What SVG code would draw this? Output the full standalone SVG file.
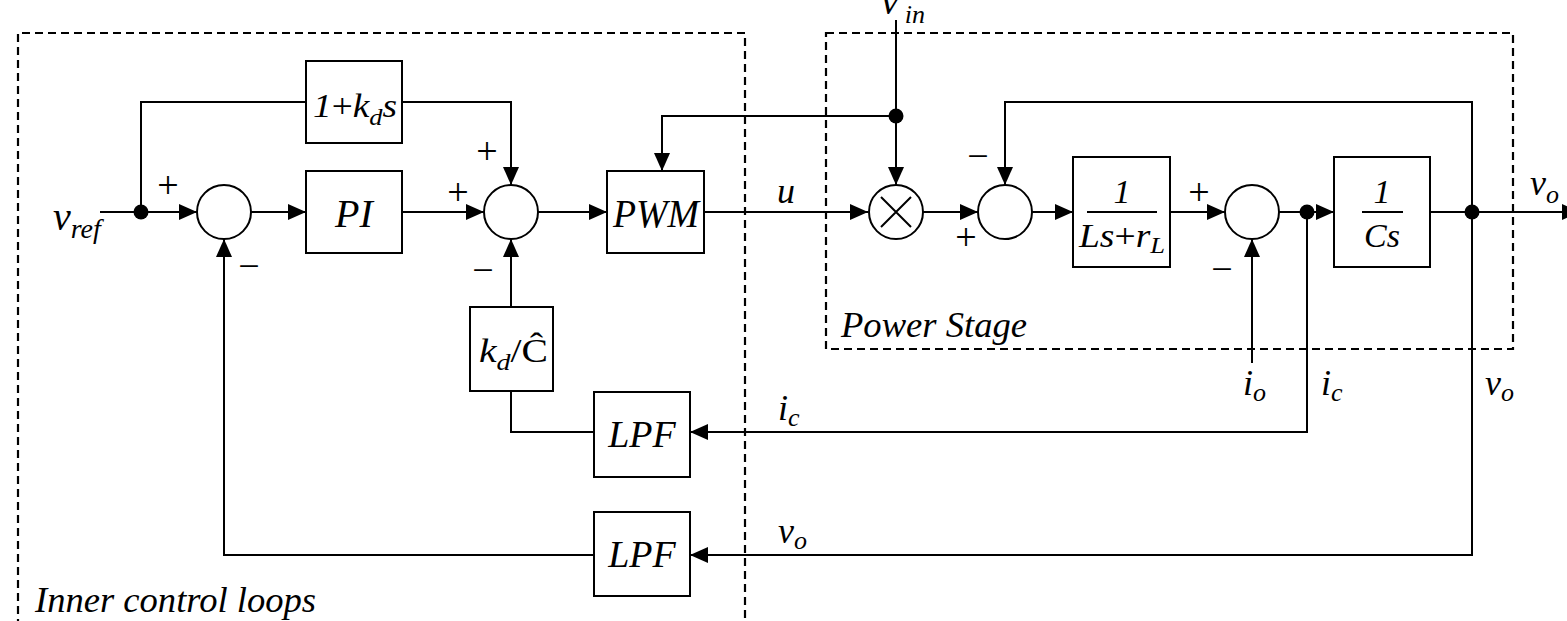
<svg xmlns="http://www.w3.org/2000/svg" width="1567" height="621" viewBox="0 0 1567 621">
<style>
.w{fill:none;stroke:#000;stroke-width:2}
.b{fill:#fff;stroke:#000;stroke-width:2}
.d{fill:none;stroke:#000;stroke-width:2.2;stroke-dasharray:8,5}
</style>
<defs>
<marker id="a" markerUnits="userSpaceOnUse" markerWidth="18" markerHeight="16" refX="18" refY="8" orient="auto">
<path d="M0,0 L18,8 L0,16 z" fill="#000"/>
</marker>
</defs>
<g id="frames">
<path class="d" d="M18,640 V33 H745 V640"/>
<rect class="d" x="826" y="33" width="687" height="316"/>
<text x="35" y="612" font-family="Liberation Serif" font-style="italic" font-size="36" textLength="281" lengthAdjust="spacingAndGlyphs">Inner control loops</text>
<text x="841" y="337" font-family="Liberation Serif" font-style="italic" font-size="36" textLength="186" lengthAdjust="spacingAndGlyphs">Power Stage</text>
</g>
<g id="connectors">
<path class="w" d="M100,212 H197" marker-end="url(#a)"/>
<path class="w" d="M141,212 V102 H306"/>
<path class="w" d="M402,102 H511 V185" marker-end="url(#a)"/>
<path class="w" d="M251,212 H306" marker-end="url(#a)"/>
<path class="w" d="M402,212 H484" marker-end="url(#a)"/>
<path class="w" d="M538,212 H607" marker-end="url(#a)"/>
<path class="w" d="M704,212 H868" marker-end="url(#a)"/>
<path class="w" d="M896,20 V185" marker-end="url(#a)"/>
<path class="w" d="M896,116 H662 V171" marker-end="url(#a)"/>
<path class="w" d="M923,212 H978" marker-end="url(#a)"/>
<path class="w" d="M1032,212 H1073" marker-end="url(#a)"/>
<path class="w" d="M1170,212 H1225" marker-end="url(#a)"/>
<path class="w" d="M1279,212 H1334" marker-end="url(#a)"/>
<path class="w" d="M1430,212 H1580" marker-end="url(#a)"/>
<path class="w" d="M1472,212 V102 H1005 V185" marker-end="url(#a)"/>
<path class="w" d="M1252,363 V239" marker-end="url(#a)"/>
<path class="w" d="M1307,212 V432 H690" marker-end="url(#a)"/>
<path class="w" d="M1472,212 V555 H690" marker-end="url(#a)"/>
<path class="w" d="M511,307 V239" marker-end="url(#a)"/>
<path class="w" d="M511,391 V432 H594"/>
<path class="w" d="M594,555 H224 V239" marker-end="url(#a)"/>
<circle cx="141" cy="212" r="7.5"/>
<circle cx="896" cy="116" r="7.5"/>
<circle cx="1307" cy="212" r="7.5"/>
<circle cx="1472" cy="212" r="7.5"/>
</g>
<g id="sum1">
<circle class="b" cx="224" cy="212" r="27"/>
<text x="168" y="198" font-family="Liberation Serif" font-size="38" text-anchor="middle">+</text>
<text x="249" y="279" font-family="Liberation Serif" font-size="38" text-anchor="middle">−</text>
</g>
<g id="sum2">
<circle class="b" cx="511" cy="212" r="27"/>
<text x="458" y="205" font-family="Liberation Serif" font-size="38" text-anchor="middle">+</text>
<text x="487" y="164" font-family="Liberation Serif" font-size="38" text-anchor="middle">+</text>
<text x="483" y="283" font-family="Liberation Serif" font-size="38" text-anchor="middle">−</text>
</g>
<g id="mult">
<circle class="b" cx="896" cy="212" r="27"/>
<path class="w" d="M881,197 L911,227 M911,197 L881,227"/>
</g>
<g id="sum3">
<circle class="b" cx="1005" cy="212" r="27"/>
<text x="978" y="169" font-family="Liberation Serif" font-size="38" text-anchor="middle">−</text>
<text x="966" y="250" font-family="Liberation Serif" font-size="38" text-anchor="middle">+</text>
</g>
<g id="sum4">
<circle class="b" cx="1252" cy="212" r="27"/>
<text x="1199" y="205" font-family="Liberation Serif" font-size="38" text-anchor="middle">+</text>
<text x="1222" y="282" font-family="Liberation Serif" font-size="38" text-anchor="middle">−</text>
</g>
<g id="ff">
<rect class="b" x="306" y="61" width="96" height="82"/>
<text x="313" y="117" font-family="Liberation Serif" font-style="italic" font-size="34" textLength="84" lengthAdjust="spacingAndGlyphs">1<tspan font-style="normal">+</tspan>k<tspan font-size="24" dy="8">d</tspan><tspan dy="-8">s</tspan></text>
</g>
<g id="pi">
<rect class="b" x="306" y="171" width="96" height="82"/>
<text x="354" y="227" font-family="Liberation Serif" font-style="italic" font-size="40" text-anchor="middle">PI</text>
</g>
<g id="pwm">
<rect class="b" x="607" y="171" width="97" height="82"/>
<text x="656" y="227" font-family="Liberation Serif" font-style="italic" font-size="40" text-anchor="middle" textLength="86" lengthAdjust="spacingAndGlyphs">PWM</text>
</g>
<g id="gl">
<rect class="b" x="1073" y="157" width="97" height="110"/>
<text x="1122" y="203" font-family="Liberation Serif" font-style="italic" font-size="34" text-anchor="middle">1</text>
<line class="w" x1="1087" y1="212" x2="1157" y2="212"/>
<text x="1079" y="247" font-family="Liberation Serif" font-style="italic" font-size="34" textLength="86" lengthAdjust="spacingAndGlyphs">Ls<tspan font-style="normal">+</tspan>r<tspan font-size="24" dy="6">L</tspan></text>
</g>
<g id="gc">
<rect class="b" x="1334" y="157" width="96" height="110"/>
<text x="1382" y="203" font-family="Liberation Serif" font-style="italic" font-size="34" text-anchor="middle">1</text>
<line class="w" x1="1362" y1="212" x2="1403" y2="212"/>
<text x="1382" y="247" font-family="Liberation Serif" font-style="italic" font-size="34" text-anchor="middle">Cs</text>
</g>
<g id="kc">
<rect class="b" x="470" y="307" width="83" height="84"/>
<text x="479" y="362" font-family="Liberation Serif" font-style="italic" font-size="34" textLength="69" lengthAdjust="spacingAndGlyphs">k<tspan font-size="24" dy="8">d</tspan><tspan font-style="normal" dy="-8">/Ĉ</tspan></text>
</g>
<g id="lpf1">
<rect class="b" x="594" y="392" width="96" height="85"/>
<text x="642" y="447" font-family="Liberation Serif" font-style="italic" font-size="38" text-anchor="middle">LPF</text>
</g>
<g id="lpf2">
<rect class="b" x="594" y="512" width="96" height="84"/>
<text x="642" y="567" font-family="Liberation Serif" font-style="italic" font-size="38" text-anchor="middle">LPF</text>
</g>
<g id="labels">
<text x="53" y="230" font-family="Liberation Serif" font-style="italic" font-size="40">v<tspan font-size="28" dy="8">ref</tspan></text>
<text x="777" y="203" font-family="Liberation Serif" font-style="italic" font-size="36">u</text>
<text x="881" y="14" font-family="Liberation Serif" font-style="italic" font-size="40">v<tspan font-size="26" dx="6" dy="9">in</tspan></text>
<text x="1530" y="195" font-family="Liberation Serif" font-style="italic" font-size="36">v<tspan font-size="26" dy="8">o</tspan></text>
<text x="1243" y="395" font-family="Liberation Serif" font-style="italic" font-size="36">i<tspan font-size="26" dy="6">o</tspan></text>
<text x="1321" y="395" font-family="Liberation Serif" font-style="italic" font-size="36">i<tspan font-size="26" dy="6">c</tspan></text>
<text x="1485" y="395" font-family="Liberation Serif" font-style="italic" font-size="36">v<tspan font-size="26" dy="6">o</tspan></text>
<text x="778" y="420" font-family="Liberation Serif" font-style="italic" font-size="36">i<tspan font-size="26" dy="6">c</tspan></text>
<text x="778" y="543" font-family="Liberation Serif" font-style="italic" font-size="36">v<tspan font-size="26" dy="6">o</tspan></text>
</g>
</svg>
